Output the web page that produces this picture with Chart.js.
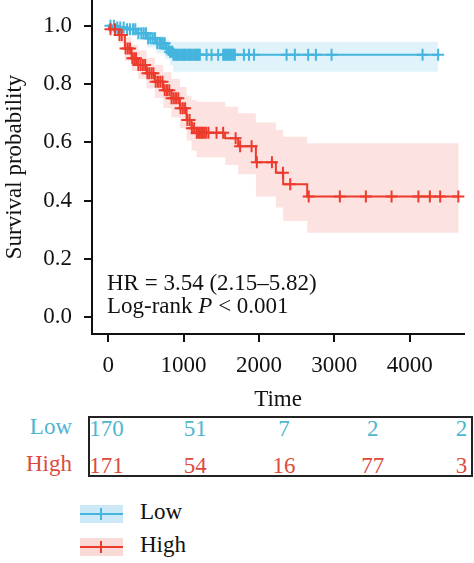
<!DOCTYPE html>
<html>
<head>
<meta charset="utf-8">
<script src="https://cdn.jsdelivr.net/npm/chart.js@4.4.1/dist/chart.umd.min.js"></script>
<style>
  html, body { margin: 0; padding: 0; background: #fff; }
  body { width: 474px; height: 563px; position: relative; overflow: hidden;
         font-family: "Liberation Serif", "DejaVu Serif", serif; font-size: 23px; color: #111; }
  #plot { position: absolute; left: 0; top: -8px; width: 474px; height: 422px; }
  .abs { position: absolute; white-space: nowrap; line-height: 24px; }
  .mid { transform: translate(-50%, -50%); }
  #stats { left: 107px; top: 271px; line-height: 23.4px; }
  #riskBox { position: absolute; left: 88px; top: 416px; width: 381px; height: 57px; border: 2px solid #222; }
  .key { position: absolute; left: 80px; width: 43px; height: 18px; }
  .key .ln { position: absolute; left: 0; right: 0; top: 8px; height: 2px; }
  .key .tk { position: absolute; left: 20px; width: 2px; top: 3px; height: 12px; }
</style>
</head>
<body>
<div id="plot"><canvas id="km"></canvas></div>
<div class="abs" id="stats">HR = 3.54 (2.15–5.82)<br>Log-rank <i>P</i> &lt; 0.001</div>
<div id="riskBox"></div>
<div id="risk"></div>
<div id="legend"></div>
<script>
const groups = ['Low', 'High'];

// Low group: KM steps (time, survival) and 95% CI
const lowTime  = [0, 90, 244, 376, 509, 642, 752, 818, 862, 4377];
const lowSurv  = [1.0, 0.994, 0.988, 0.974, 0.957, 0.940, 0.922, 0.911, 0.900, 0.900];
const lowUpper = [1.0, 1.0, 1.0, 0.995, 0.978, 0.965, 0.952, 0.946, 0.945, 0.945];
const lowLower = [1.0, 0.985, 0.970, 0.950, 0.925, 0.905, 0.885, 0.865, 0.842, 0.842];
const lowCensor = [30, 75, 120, 160, 205, 250, 290, 330, 360, 400, 440, 470, 500, 530, 560, 590, 620,
  650, 680, 700, 725, 750, 775, 800, 820, 840, 850, 865, 880, 900, 915, 935, 950, 970, 990, 1005,
  1020, 1040, 1060, 1075, 1090, 1110, 1130, 1150, 1165, 1185, 1200, 1216, 1305, 1371, 1459, 1525,
  1545, 1565, 1585, 1600, 1620, 1640, 1660, 1680, 1800, 1868, 1935, 2366, 2476, 2653, 2755, 2963,
  4170, 4377];

// High group
const highTime  = [0, 10, 133, 221, 310, 398, 509, 619, 730, 840, 951, 1040, 1106, 1172, 1551, 1724,
  1959, 2224, 2321, 2640, 4650];
const highSurv  = [1.0, 0.988, 0.968, 0.922, 0.888, 0.865, 0.837, 0.808, 0.779, 0.751, 0.717, 0.677,
  0.648, 0.633, 0.614, 0.587, 0.532, 0.496, 0.456, 0.414, 0.414];
const highUpper = [1.0, 1.0, 1.0, 0.960, 0.935, 0.915, 0.890, 0.865, 0.840, 0.818, 0.790, 0.760,
  0.745, 0.739, 0.722, 0.700, 0.668, 0.642, 0.619, 0.597, 0.597];
const highLower = [1.0, 0.975, 0.940, 0.880, 0.845, 0.818, 0.785, 0.752, 0.718, 0.685, 0.648, 0.606,
  0.572, 0.549, 0.522, 0.491, 0.414, 0.377, 0.330, 0.290, 0.290];
const highCensor = [30, 90, 150, 180, 230, 260, 290, 320, 345, 370, 400, 430, 460, 490, 520, 545, 575,
  600, 630, 660, 690, 720, 750, 780, 810, 840, 870, 900, 930, 960, 990, 1020, 1050, 1080, 1110, 1140,
  1175, 1195, 1215, 1235, 1255, 1275, 1300, 1330, 1437, 1525, 1690, 1750, 1902, 1972, 2172, 2318,
  2415, 2660, 3073, 3418, 3759, 4115, 4267, 4404, 4645];

const xTicks = [0, 1000, 2000, 3000, 4000];
const yTicks = [0, 0.2, 0.4, 0.6, 0.8, 1.0];

const riskTimes = [0, 1000, 2000, 3000, 4000];
const riskLow  = [170, 51, 7, 2, 2];
const riskHigh = [171, 54, 16, 77, 3];

const blue = '#45B5DE', red = '#EC3B2C';
const blueBand = 'rgba(69,181,222,0.16)', redBand = 'rgba(236,59,44,0.14)';
const font = '"Liberation Serif", "DejaVu Serif", serif';

const pts = (ts, vs) => ts.map((t, i) => ({ x: t, y: vs[i] }));
function survAt(ts, vs, t) {
  let s = vs[0];
  for (let i = 0; i < ts.length; i++) { if (ts[i] <= t) s = vs[i]; }
  return s;
}
const marks = (cs, ts, vs) => cs.map(t => ({ x: t, y: survAt(ts, vs, t) }));

const band = (data, color, fill, order) => ({
  data, stepped: true, borderWidth: 0, pointRadius: 0, fill, backgroundColor: color, order
});
const curve = (data, color, order) => ({
  data, stepped: true, borderColor: color, borderWidth: 2, pointRadius: 0, fill: false, order
});
const cross = (data, color, order) => ({
  data, showLine: false, pointStyle: 'cross', pointRadius: 6, pointBorderWidth: 2,
  pointBorderColor: color, borderColor: color, fill: false, clip: 10, order
});

function draw() {
  Chart.defaults.font.family = font;
  Chart.defaults.font.size = 23;
  Chart.defaults.color = '#111';

  new Chart(document.getElementById('km'), {
    type: 'line',
    data: {
      datasets: [
        band(pts(lowTime, lowUpper), blueBand, '+1', 7),
        band(pts(lowTime, lowLower), blueBand, false, 7),
        band(pts(highTime, highUpper), redBand, '+1', 5),
        band(pts(highTime, highLower), redBand, false, 5),
        curve(pts(lowTime, lowSurv), blue, 3),
        curve(pts(highTime, highSurv), red, 2),
        cross(marks(lowCensor, lowTime, lowSurv), blue, 1),
        cross(marks(highCensor, highTime, highSurv), red, 0)
      ]
    },
    options: {
      responsive: true,
      maintainAspectRatio: false,
      animation: false,
      events: [],
      layout: { padding: { left: 0, right: 10, top: 0, bottom: 0 } },
      plugins: { legend: { display: false }, tooltip: { enabled: false } },
      scales: {
        x: {
          type: 'linear', min: -215, max: 4720,
          afterBuildTicks: s => { s.ticks = xTicks.map(v => ({ value: v })); },
          afterFit: s => { s.height = 80; s.paddingLeft = 0; s.paddingRight = 0; },
          grid: { drawOnChartArea: false, drawTicks: true, tickLength: 8, color: '#111', lineWidth: 2 },
          border: { display: true, color: '#111', width: 2 },
          ticks: { font: { family: font, size: 23 }, padding: 10, maxRotation: 0, autoSkip: false,
                   callback: v => String(v) },
          title: { display: true, text: 'Time', font: { family: font, size: 23 },
                   padding: { top: 0, bottom: 0 } }
        },
        y: {
          type: 'linear', min: -0.057, max: 1.088,
          afterBuildTicks: s => { s.ticks = yTicks.map(v => ({ value: v })); },
          afterFit: s => { s.width = 92; s.paddingTop = 0; s.paddingBottom = 0; },
          grid: { drawOnChartArea: false, drawTicks: true, tickLength: 8, color: '#111', lineWidth: 2 },
          border: { display: true, color: '#111', width: 2 },
          ticks: { font: { family: font, size: 23 }, padding: 12,
                   callback: v => Number(v).toFixed(1) },
          title: { display: true, text: 'Survival probability',
                   font: { family: font, size: 23 }, padding: { top: 1, bottom: 0 } }
        }
      }
    }
  });
}

// number-at-risk table
const tableX = t => 106.5 + t * 0.08875;
const rowY = [429, 466];
const rowLabelY = [427, 464];
const rowColor = ['#4DB6CF', '#DC4A3E'];
const risk = document.getElementById('risk');
[riskLow, riskHigh].forEach((row, r) => {
  const lab = document.createElement('div');
  lab.className = 'abs';
  lab.textContent = groups[r];
  lab.style.cssText = `right:${474 - 72}px;top:${rowLabelY[r] - 12}px;color:${rowColor[r]}`;
  risk.appendChild(lab);
  row.forEach((n, i) => {
    const d = document.createElement('div');
    d.className = 'abs mid';
    d.textContent = n;
    d.style.cssText = `left:${tableX(riskTimes[i])}px;top:${rowY[r]}px;color:${rowColor[r]}`;
    risk.appendChild(d);
  });
});

// legend
const legend = document.getElementById('legend');
const keyTop = [505, 538];
const keyFill = ['#CDE9F7', '#FADAD6'];
const keyLine = [blue, red];
groups.forEach((g, i) => {
  const k = document.createElement('div');
  k.className = 'key';
  k.style.top = keyTop[i] + 'px';
  k.style.background = keyFill[i];
  k.innerHTML = `<div class="ln" style="background:${keyLine[i]}"></div><div class="tk" style="background:${keyLine[i]}"></div>`;
  legend.appendChild(k);
  const t = document.createElement('div');
  t.className = 'abs';
  t.textContent = g;
  t.style.cssText = `left:140px;top:${keyTop[i] + 7 - 12}px;color:#111`;
  legend.appendChild(t);
});

document.fonts.load('23px "Liberation Serif"').then(draw, draw);
</script>
</body>
</html>
